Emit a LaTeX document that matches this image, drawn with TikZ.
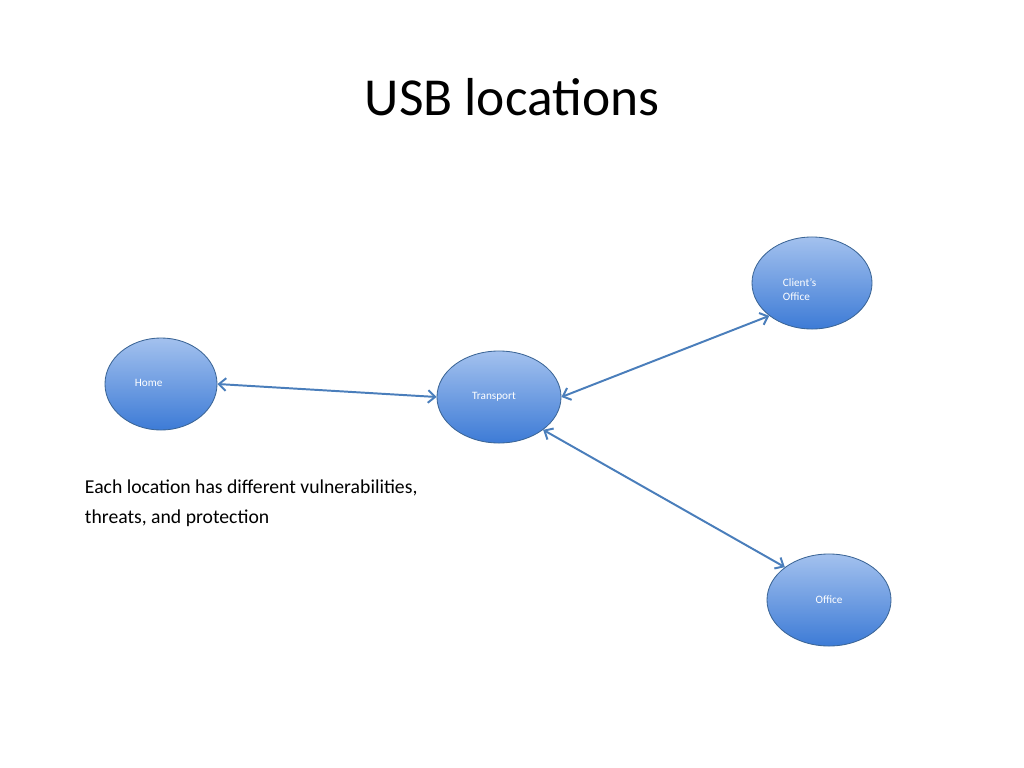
\documentclass[tikz,border=0pt]{standalone}
\usepackage{fontspec}
\setmainfont{Carlito}
\usetikzlibrary{shapes.geometric, arrows.meta, positioning, calc}
\definecolor{edgeblue}{HTML}{4A7EBB}
\definecolor{toplight}{HTML}{A3C1EE}
\definecolor{botdark}{HTML}{3D7BD6}
\tikzset{link/.style={edgeblue, line width=1.4pt, {Straight Barb[length=5pt,width=9pt]}-{Straight Barb[length=5pt,width=9pt]}}}

\begin{document}
\begin{tikzpicture}[x=0.025cm, y=-0.025cm,
    place/.style={ellipse, draw=edgeblue!80!black, line width=0.6pt, top color=toplight, bottom color=botdark, minimum width=2.9cm, minimum height=2.3cm, inner sep=0pt},
    tag/.style={text=white, font=\fontsize{8}{10}\selectfont, align=left},
]
\useasboundingbox (0,0) rectangle (1024,768);

% Title
\node[font=\fontsize{38}{44}\selectfont] (title) at (512,97) {USB locations};

% Locations
\node[place, minimum width=2.8cm] (home) at (161,384) {};
\node[place, minimum width=3.1cm] (transport) at (499,397) {};
\node[place, minimum width=3cm] (client) at (812,283) {};
\node[place, minimum width=3.1cm] (office) at (829,600) {};

% Labels
\node[tag, anchor=west] (homet) at (130,383) {Home};
\node[tag] (transportt) at (494,397) {Transport};
\node[tag, anchor=west] (clientt) at (778,290) {Client’s\\Office};
\node[tag] (officet) at (829,600) {Office};

% Connections
\draw[link] (home.east) -- (transport.west);
\draw[link] (transport.east) -- (client.south west);
\draw[link] (transport.south east) -- (office.north west);

% Note
\node[anchor=west, align=left, font=\fontsize{14}{21}\selectfont] (note) at (80,503) {Each location has different vulnerabilities,\\threats, and protection};
\end{tikzpicture}
\end{document}
